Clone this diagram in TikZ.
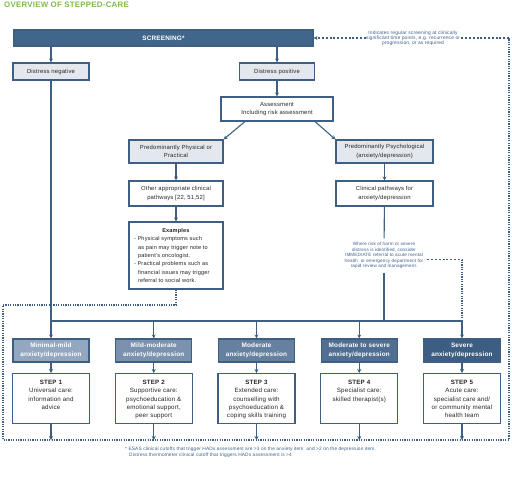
\documentclass[tikz,border=0pt]{standalone}
\usepackage{fontspec}
\setmainfont{Liberation Sans}[LetterSpace=3]
\usetikzlibrary{arrows.meta,positioning}
\definecolor{boxblue}{HTML}{3E5F82}
\definecolor{screenfill}{HTML}{41668B}
\definecolor{lightfill}{HTML}{E3E7EE}
\definecolor{catA}{HTML}{93A8C0}
\definecolor{catB}{HTML}{7A92AE}
\definecolor{catC}{HTML}{66809F}
\definecolor{catD}{HTML}{4F6E92}
\definecolor{catE}{HTML}{3C5E82}
\definecolor{titlegreen}{HTML}{7DBA4A}
\definecolor{noteblue}{HTML}{3E5F8A}
\tikzset
{
    box/.style      = {draw=boxblue, line width=1.1pt, align=center, inner sep=1pt, text=black!85, font=\fontsize{5.9}{8.4}\selectfont},
    greybox/.style  = {box, fill=lightfill},
    whitebox/.style = {box, fill=white},
    catbox/.style   = {box, text=white, font=\fontsize{6.4}{8.4}\selectfont\bfseries, minimum width=76pt, minimum height=23pt},
    stepbox/.style  = {whitebox, anchor=north, inner sep=2.5pt, font=\fontsize{6.2}{8.4}\selectfont},
    link/.style     = {draw=boxblue, line width=1.1pt},
    loopline/.style = {draw=boxblue, line width=1.1pt, dash pattern=on 1.2pt off 1.2pt},
    dashline/.style = {draw=boxblue, line width=1.1pt, dash pattern=on 2pt off 1.8pt},
    notetext/.style = {align=center, text=noteblue, inner sep=0pt, font=\fontsize{4.9}{5.2}\selectfont}
}
\newcommand{\steptext}[2]{\parbox[t][45pt][t]{72pt}{\centering\vspace*{4pt}\textbf{#1}\\#2}}

\begin{document}
\begin{tikzpicture}[x=1pt, y=-1pt, >={Stealth[length=4pt,width=4pt]}]
\useasboundingbox (0,0) rectangle (512,480);
\newcommand\YCat{350.5}
\newcommand\YStep{373}
\newcommand\YBar{321}
\newcommand\YLoop{440}
\node (title) [anchor=west, inner sep=0pt, text=titlegreen, font=\fontsize{7.9}{9}\selectfont\bfseries] at (4,4.5) {OVERVIEW OF STEPPED-CARE};

\node (screen)  [box, fill=screenfill, text=white, font=\fontsize{6.4}{7}\selectfont\bfseries, minimum width=299pt, minimum height=16pt] at (163.5,38) {SCREENING*};
\node (screenNote) [notetext] at (413,38) {Indicates regular screening at clinically\\significant time points, e.g. recurrence or\\progression, or as required};
\node (neg)     [greybox, minimum width=76pt, minimum height=17pt] at (51,71.5) {Distress negative};
\node (pos)     [greybox, minimum width=75pt, minimum height=17pt] at (277,71.5) {Distress positive};
\node (assess)  [whitebox, minimum width=112pt, minimum height=24pt, font=\fontsize{5.9}{7.7}\selectfont] at (277,109) {Assessment\\Including risk assessment};
\node (phys)    [greybox, minimum width=94pt, minimum height=23pt] at (176,151.5) {Predominantly Physical or\\Practical};
\node (psych)   [greybox, minimum width=97pt, minimum height=23pt] at (384.5,151.5) {Predominantly Psychological\\(anxiety/depression)};
\node (other)   [whitebox, minimum width=94pt, minimum height=25pt] at (176,193.5) {Other appropriate clinical\\pathways [22, 51,52]};
\node (clin)    [whitebox, minimum width=97pt, minimum height=25pt] at (384.5,193.5) {Clinical pathways for\\anxiety/depression};
\node (ex)      [whitebox, minimum width=94pt, minimum height=67pt, align=left, font=\fontsize{5.6}{8.3}\selectfont] at (176,255.5)
    {\makebox[84pt]{\textbf{Examples}}\\- Physical symptoms such\\\hspace*{4pt}as pain may trigger note to\\\hspace*{4pt}patient's oncologist.\\- Practical problems such as\\\hspace*{4pt}financial issues may trigger\\\hspace*{4pt}referral to social work.};
\node (riskNote) [notetext, inner sep=4pt, font=\fontsize{4.6}{5.4}\selectfont] at (384,255.5) {Where risk of harm or severe\\distress is identified, consider\\IMMEDIATE referral to acute mental\\health\ \ or emergency department for\\rapid review and management.};

%% care levels
\node (cat1) [catbox, fill=catA] at (51,\YCat)     {Minimal-mild\\anxiety/depression};
\node (cat2) [catbox, fill=catB] at (153.75,\YCat) {Mild-moderate\\anxiety/depression};
\node (cat3) [catbox, fill=catC] at (256.5,\YCat)  {Moderate\\anxiety/depression};
\node (cat4) [catbox, fill=catD] at (359.25,\YCat) {Moderate to severe\\anxiety/depression};
\node (cat5) [catbox, fill=catE] at (462,\YCat)    {Severe\\anxiety/depression};

\node (step1) [stepbox] at (51,\YStep)     {\steptext{STEP 1}{Universal care:\\information and\\advice}};
\node (step2) [stepbox] at (153.75,\YStep) {\steptext{STEP 2}{Supportive care:\\psychoeducation \&\\emotional support,\\peer support}};
\node (step3) [stepbox] at (256.5,\YStep)  {\steptext{STEP 3}{Extended care:\\counselling with\\psychoeducation \&\\coping skills training}};
\node (step4) [stepbox] at (359.25,\YStep) {\steptext{STEP 4}{Specialist care:\\skilled therapist(s)}};
\node (step5) [stepbox] at (462,\YStep)    {\steptext{STEP 5}{Acute care:\\specialist care and/\\or community mental\\health team}};

\node (foot) [anchor=north west, align=left, inner sep=0pt, text=noteblue, font=\fontsize{4.8}{6}\selectfont] at (125,447)
    {* ESAS clinical cutoffs that trigger HADs assessment are >3 on the anxiety item\ \ and >2 on the depression item.\\\hspace*{4pt}Distress thermometer clinical cutoff that triggers HADs assessment is >4};

\coordinate (barL) at (51,\YBar);
\coordinate (barR) at (462,\YBar);
\coordinate (loopML) at (3,305);
\coordinate (loopBL) at (3,\YLoop);
\coordinate (loopBR) at (509,\YLoop);

\path[link]
(screen.south -| neg) edge[->] (neg)
(screen.south -| pos) edge[->] (pos)
(pos) edge[->] (assess)
([xshift=-32pt]assess.south) edge[->] (phys.north east)
([xshift=38pt]assess.south) edge[->] (psych.north west)
(phys) edge[->] (other)
(other) edge[->] (ex)
(psych) edge[->] (clin);

\draw[link] (neg) -- (barL) -- (barR);
\draw[link] (clin) -- (riskNote);
\draw[link] (riskNote) -- (riskNote |- barL);
\foreach \i in {1,...,5}
{
    \draw[link,->] (cat\i.north |- barL) -- (cat\i);
    \draw[link,->] (cat\i) -- (step\i);
    \draw[link,->] (step\i.south) -- (step\i.south |- loopBL);
}

%% re-screening loop
\draw[dashline] ([yshift=-4pt]riskNote.east) -- ([yshift=-4pt]riskNote.east -| barR);
\draw[loopline] ([yshift=-4pt]riskNote.east -| barR) -- (barR);
\draw[loopline] (ex) -- (ex.south |- loopML) -- (loopML) -- (loopBL) -- (loopBR) -- (loopBR |- screenNote);
\draw[dashline] (loopBR |- screenNote) -- (screenNote.east);
\draw[dashline,->] (screenNote.west) -- (screen.east);
\end{tikzpicture}
\end{document}
